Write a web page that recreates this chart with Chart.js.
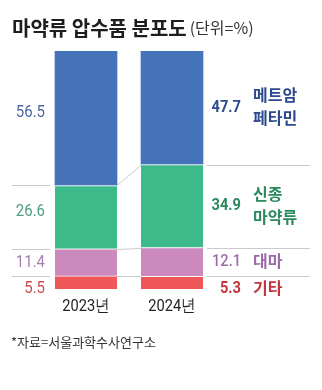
<!DOCTYPE html>
<html>
<head>
<meta charset="utf-8">
<script src="https://cdn.jsdelivr.net/npm/chart.js@4"></script>
<style>
  html, body { margin: 0; padding: 0; background: #fff; }
  #wrap { position: relative; width: 322px; height: 390px; }
</style>
</head>
<body>
<div id="wrap"><canvas id="c" width="322" height="390"></canvas></div>
<script>
// 연도
const years = ['2023년', '2024년'];
// 아래에서 위로 쌓는 순서
const seriesNames = [['기타'], ['대마'], ['신종', '마약류'], ['메트암', '페타민']];
const etcValues = [5.5, 5.3];
const cannabisValues = [11.4, 12.1];
const newDrugValues = [26.6, 34.9];
const methValues = [56.5, 47.7];

const barColors = ['#ef5658', '#cc89be', '#3dba8a', '#4573b9'];
const leftTextColors = ['#c9504f', '#a27fae', '#4c9e80', '#4d66a4'];
const rightTextColors = ['#c3353a', '#9c6aa6', '#2a8a5e', '#2c4a8c'];

const KR = '"Noto Sans CJK KR", "Noto Sans", sans-serif';
const NUM = 'Roboto, "Noto Sans", sans-serif';

// 좁은 글꼴 느낌으로 가로 압축해서 글자 그리기
function drawNarrow(ctx, text, x, y, align, scale) {
  ctx.save();
  ctx.translate(x, y);
  ctx.scale(scale, 1);
  ctx.textAlign = align;
  ctx.fillText(text, 0, 0);
  ctx.restore();
}

const overlay = {
  id: 'overlay',
  afterDatasetsDraw(chart) {
    const ctx = chart.ctx;
    const metas = chart.data.datasets.map((d, i) => chart.getDatasetMeta(i));
    const b1 = (i) => metas[i].data[0];
    const b2 = (i) => metas[i].data[1];

    ctx.save();
    // 경계선
    ctx.strokeStyle = '#c9c9c9';
    ctx.lineWidth = 1;
    for (let i = 0; i < metas.length - 1; i++) {
      const a = b1(i), b = b2(i);
      const ya = Math.round(a.y) + 0.5;
      const yb = Math.round(b.y) + 0.5;
      const aL = a.x - a.width / 2, aR = a.x + a.width / 2;
      const bL = b.x - b.width / 2, bR = b.x + b.width / 2;
      ctx.beginPath();
      ctx.moveTo(12, ya); ctx.lineTo(aL - 5, ya);
      ctx.moveTo(aR, ya); ctx.lineTo(bL, yb);
      ctx.moveTo(bR + 4, yb); ctx.lineTo(310, yb);
      ctx.stroke();
    }

    // 값 라벨
    ctx.textBaseline = 'middle';
    for (let i = 0; i < metas.length; i++) {
      const a = b1(i), b = b2(i);
      const dy = i === 0 ? 6 : 0;
      const ya = (a.y + a.base) / 2 + dy - (i >= 2 ? 5 : 0);
      const yb = (b.y + b.base) / 2 + dy;

      ctx.fillStyle = leftTextColors[i];
      ctx.font = '400 17px ' + NUM;
      drawNarrow(ctx, chart.data.datasets[i].data[0].toFixed(1), 45, ya, 'right', 0.88);

      ctx.fillStyle = rightTextColors[i];
      ctx.font = (i === 1 ? '500 ' : '700 ') + '17px ' + NUM;
      drawNarrow(ctx, chart.data.datasets[i].data[1].toFixed(1), 241, yb, 'right', 0.86);

      const lines = seriesNames[i];
      ctx.font = '700 16px ' + KR;
      ctx.textAlign = 'left';
      const lh = 23;
      const y0 = yb - (lines.length - 1) * lh / 2 - 1;
      lines.forEach((t, k) => ctx.fillText(t, 253, y0 + k * lh));
    }

    // 연도 라벨
    ctx.fillStyle = '#222';
    ctx.font = '400 17px ' + NUM;
    years.forEach((y, j) => {
      const x = chart.scales.x.getPixelForValue(j);
      drawNarrow(ctx, y, x, 307, 'center', 0.86);
    });

    // 제목과 출처
    ctx.textAlign = 'left';
    ctx.fillStyle = '#1e1e1e';
    ctx.font = '700 20px ' + KR;
    ctx.fillText('마약류 압수품 분포도', 12, 28);
    const w = ctx.measureText('마약류 압수품 분포도').width;
    ctx.font = '400 16px ' + KR;
    ctx.fillStyle = '#333';
    ctx.fillText('(단위=%)', 12 + w + 3, 28);

    ctx.font = '400 13px ' + KR;
    ctx.fillStyle = '#333';
    ctx.fillText('*자료=서울과학수사연구소', 11, 342);
    ctx.restore();
  }
};

const valueLists = [etcValues, cannabisValues, newDrugValues, methValues];

new Chart(document.getElementById('c'), {
  type: 'bar',
  data: {
    labels: years,
    datasets: valueLists.map((vals, i) => ({
      label: seriesNames[i].join(''),
      data: vals,
      backgroundColor: barColors[i],
      borderColor: '#ffffff',
      borderWidth: { top: i < 3 ? 1 : 0, bottom: 0, left: 0, right: 0 },
      borderSkipped: false,
      barThickness: 62
    }))
  },
  options: {
    responsive: false,
    animation: false,
    layout: { padding: { left: 43, right: 107, top: 51, bottom: 101 } },
    plugins: { legend: { display: false }, tooltip: { enabled: false } },
    scales: {
      x: { display: false, stacked: true },
      y: { display: false, stacked: true, min: 0, max: 100 }
    }
  },
  plugins: [overlay]
});
</script>
</body>
</html>
